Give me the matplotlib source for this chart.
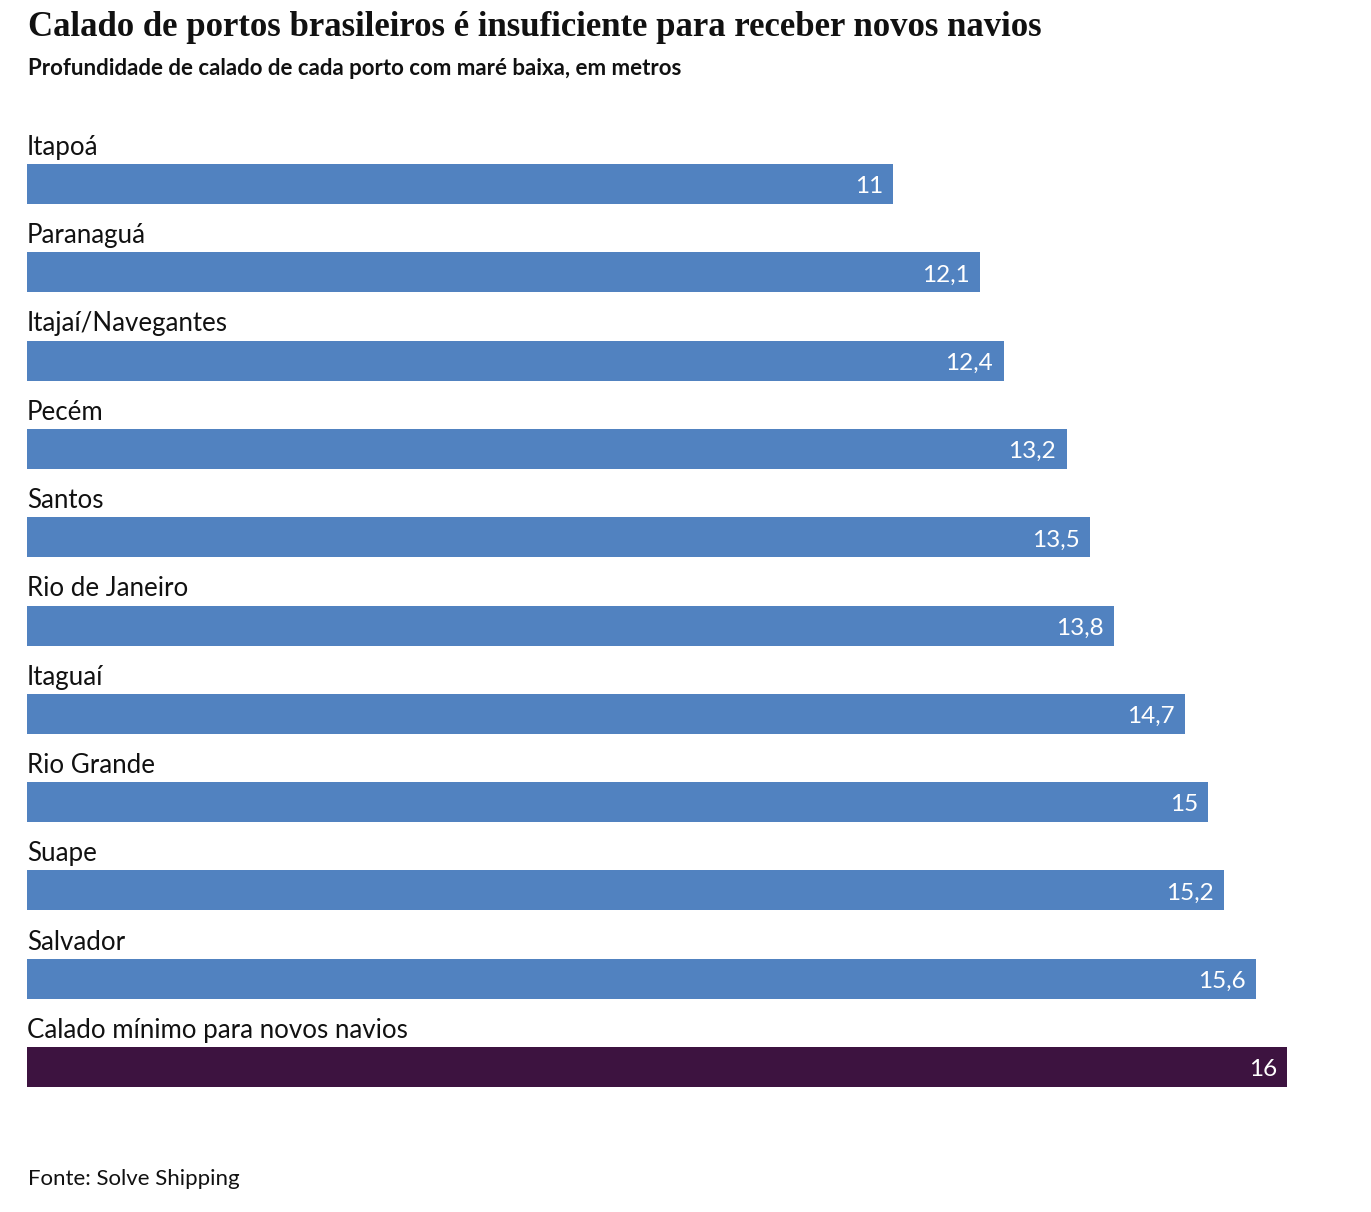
import matplotlib.pyplot as plt

# dados: profundidade de calado com maré baixa (m)
portos = ["Itapoá", "Paranaguá", "Itajaí/Navegantes", "Pecém", "Santos",
          "Rio de Janeiro", "Itaguaí", "Rio Grande", "Suape", "Salvador",
          "Calado mínimo para novos navios"]
calado = [11, 12.1, 12.4, 13.2, 13.5, 13.8, 14.7, 15, 15.2, 15.6, 16]
rotulos = ["11", "12,1", "12,4", "13,2", "13,5", "13,8", "14,7", "15", "15,2", "15,6", "16"]

azul = "#5182c0"
roxo = "#3d1340"
cores = [azul] * 10 + [roxo]

W, H = 1371, 1212
fig = plt.figure(figsize=(W / 100, H / 100), dpi=100)

left = 27 / W
width = (1287 - 27) / W
ax = fig.add_axes([left, 1 - 1111.2 / H, width, (1111.2 - 104.5) / H])

y = list(range(len(portos)))
ax.barh(y, calado, height=0.453, color=cores)
ax.set_xlim(0, 16)
ax.set_ylim(10.5, -0.9)
ax.axis("off")

fonte = "Lato"
for i, (p, v, r) in enumerate(zip(portos, calado, rotulos)):
    ax.text(0.0, i - 0.33, p, fontsize=18.6, family=fonte, va="baseline", ha="left", color="#111111")
    ax.text(v - 0.13, i + 0.03, r, fontsize=17.5, family=fonte, va="center", ha="right", color="white")

fig.text(28 / W, 1 - 36 / H, "Calado de portos brasileiros é insuficiente para receber novos navios",
         fontsize=25, family="Liberation Serif", weight="bold", color="#111111")
fig.text(28 / W, 1 - 75 / H, "Profundidade de calado de cada porto com maré baixa, em metros",
         fontsize=16, family=fonte, weight="bold", color="#111111")
fig.text(28 / W, 1 - 1185 / H, "Fonte: Solve Shipping", fontsize=16, family=fonte, color="#111111")

fig.savefig("out.png", dpi=100, facecolor="white")
